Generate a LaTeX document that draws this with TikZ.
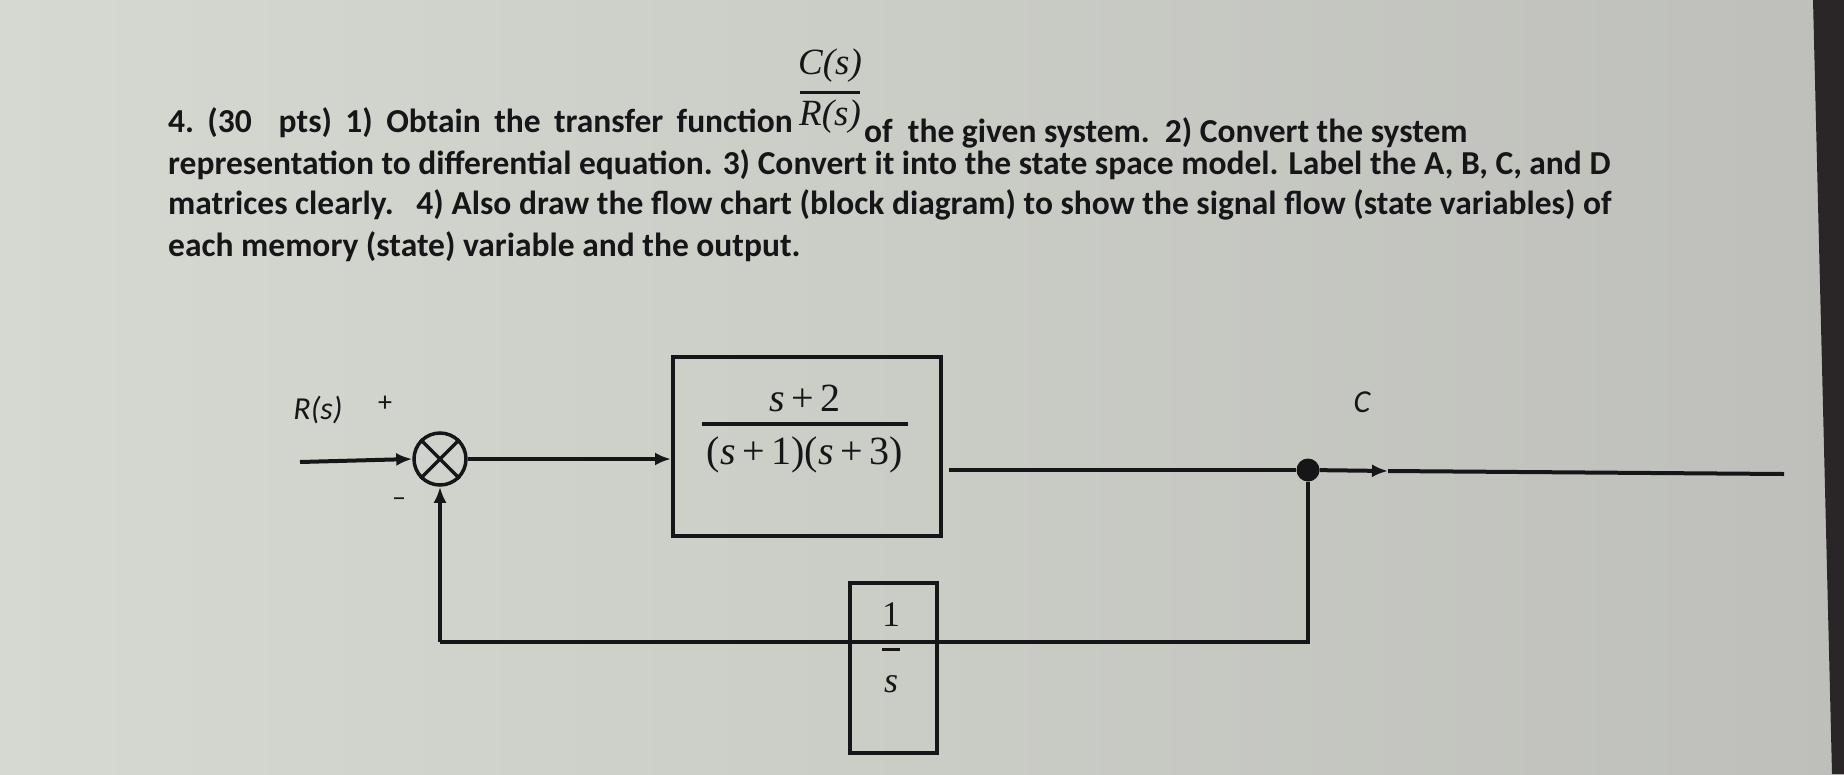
\documentclass[tikz,border=0pt]{standalone}
\usepackage{fontspec}
\setmainfont{Carlito}
\newfontfamily\timesfont{Liberation Serif}
\usetikzlibrary{positioning}
\usetikzlibrary{arrows.meta}
\definecolor{paperleft}{RGB}{214,217,210}
\definecolor{paperright}{RGB}{190,191,186}
\definecolor{bezel}{RGB}{42,38,40}
\definecolor{ink}{RGB}{22,22,24}
\tikzset{
  qtext/.style = {anchor=base west, inner sep=0pt, text=ink, font=\bfseries\fontsize{33.5}{38}\selectfont},
  lbl/.style = {inner sep=0pt, text=ink, font=\itshape\fontsize{32}{36}\selectfont},
  sigline/.style = {line width=4pt, draw=ink},
  sigarrow/.style = {line width=4pt, draw=ink, -{Latex[length=16pt,width=13pt]}},
  blockbox/.style = {draw=ink, line width=4pt, inner sep=0pt},
  fracpart/.style = {inner sep=0pt, text=ink, font=\timesfont\fontsize{40}{44}\selectfont},
}

\begin{document}
\begin{tikzpicture}[x=1pt,y=-1pt]
  % background
  \useasboundingbox (0,0) rectangle (1844,774);
  \shade[left color=paperleft, right color=paperright] (0,0) rectangle (1844,774);
  \fill[bezel] (1813,0) -- (1844,0) -- (1844,774) -- (1832,774) -- cycle;

  % question text
  \node[qtext] (q1) at (168,132) {\spaceskip=0.40em 4.\ (30\ \ pts) 1) Obtain the transfer function};
  \node[inner sep=0pt, text=ink, font=\timesfont\itshape\fontsize{37}{40}\selectfont] (cs) at (830,66) {C(s)};
  \node[inner sep=0pt, text=ink, font=\timesfont\itshape\fontsize{37}{40}\selectfont] (rs) at (830,117) {R(s)};
  \draw[line width=3pt, draw=ink] (800,92) -- (860,92);
  \node[qtext] (q1b) at (864,142) {of\ \ the given system.\ \ 2) Convert the system};
  \node[qtext] (q2) at (168,174) {representation to differential equation. 3) Convert it into the state space model. Label the A, B, C, and D};
  \node[qtext] (q3) at (168,214) {matrices clearly.\ \ \ 4) Also draw the flow chart (block diagram) to show the signal flow (state variables) of};
  \node[qtext] (q4) at (168,256) {each memory (state) variable and the output.};

  % block diagram
  \coordinate (in) at (300,462);
  \node[lbl] (rlabel) at (318,410) {R(s)};
  \node[circle, draw=ink, line width=3.5pt, minimum size=52pt, inner sep=0pt] (sum) at (440,459) {};
  \draw[line width=3.5pt, draw=ink] (sum.north west) -- (sum.south east);
  \draw[line width=3.5pt, draw=ink] (sum.north east) -- (sum.south west);
  \node[lbl, font=\fontsize{28}{30}\selectfont] (plus) at (385,404) {+};
  \node[lbl, font=\fontsize{28}{30}\selectfont] (minus) at (399,502) {--};

  \node[blockbox, minimum width=268pt, minimum height=179pt] (plant) at (807,446) {};
  \node[fracpart] (num) at (805,398) {\textit{s}\,+\,2};
  \node[fracpart] (den) at (805,455) {(\textit{s}\,+\,1)(\textit{s}\,+\,3)};
  \draw[line width=3.5pt, draw=ink] (702,424) -- (908,424);

  \node[blockbox, minimum width=87pt, minimum height=170pt] (integ) at (893,668) {};
  \node[fracpart, font=\timesfont\fontsize{36}{40}\selectfont] (one) at (891,615) {1};
  \draw[line width=3pt, draw=ink] (882,649) -- (900,649);
  \node[fracpart, font=\timesfont\itshape\fontsize{36}{40}\selectfont] (ess) at (891,684) {s};

  \node[circle, fill=ink, minimum size=23pt, inner sep=0pt] (pick) at (1308,470) {};
  \coordinate (outtip) at (1388,471);
  \coordinate (outend) at (1784,474);
  \coordinate (fbright) at (1308,642);
  \coordinate (fbleft) at (440,642);
  \node[lbl] (clabel) at (1362,402) {C};

  \draw[sigarrow] (in) -- (sum.west);
  \draw[sigarrow] (sum.east) -- (plant.west |- sum.east);
  \draw[sigline] (plant.east |- pick) ++(6,0) -- (pick);
  \draw[sigarrow] (pick) -- (outtip);
  \draw[sigline] (outtip) -- (outend);
  \draw[sigline] (pick) -- (fbright) -- (fbleft);
  \draw[sigarrow] (fbleft) -- (sum.south);
\end{tikzpicture}
\end{document}
